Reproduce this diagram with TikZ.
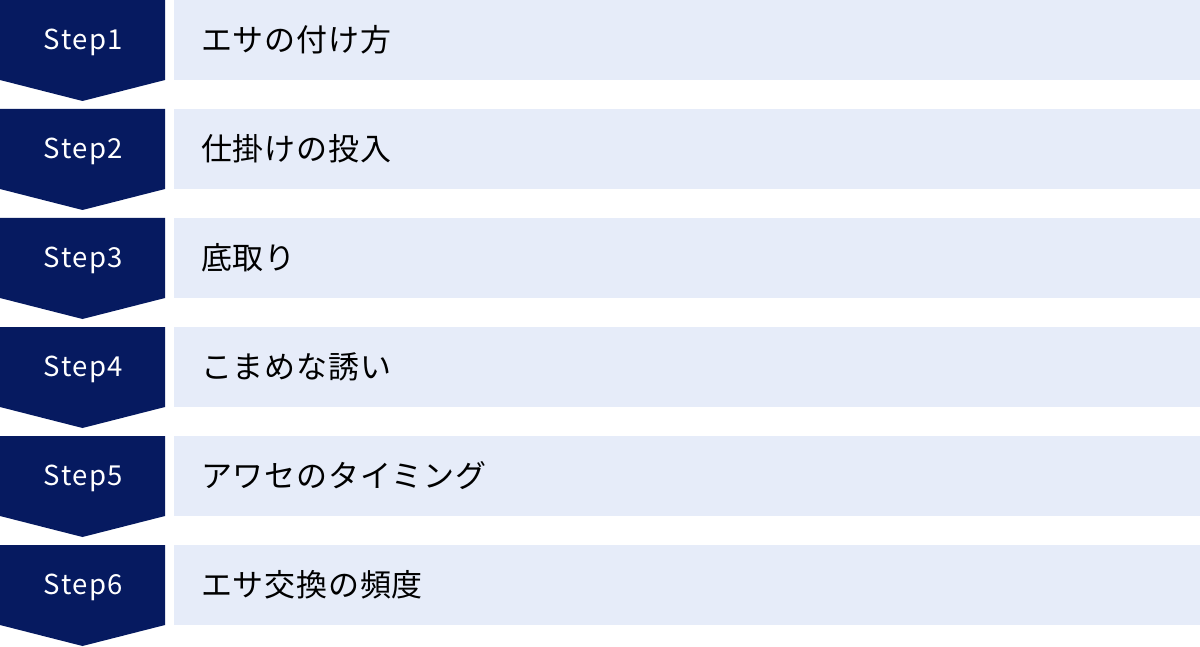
\documentclass[tikz,border=0pt]{standalone}
\usepackage{fontspec}
\setmainfont{Noto Sans CJK JP}
\newfontfamily\jpfont{Noto Sans CJK JP}
\definecolor{navy}{HTML}{061A60}
\definecolor{pale}{HTML}{E6ECF9}
\begin{document}
\begin{tikzpicture}[x=1pt,y=-1pt,
  stepshape/.style={fill=navy,draw=none},
  barbox/.style={fill=pale,draw=none},
  steplabel/.style={text=white,font=\jpfont\fontsize{27.5}{32}\selectfont\addfontfeature{LetterSpace=5.5},anchor=center,inner sep=0pt},
  itemlabel/.style={text=black,font=\jpfont\fontsize{31}{37}\selectfont\addfontfeature{LetterSpace=2.5},anchor=west,inner sep=0pt}]
\useasboundingbox (0,0) rectangle (1200,647);
\fill[white] (0,0) rectangle (1200,647);
\foreach \i/\t in {1/エサの付け方,2/仕掛けの投入,3/底取り,4/こまめな誘い,5/アワセのタイミング,6/エサ交換の頻度}{
  \pgfmathsetmacro{\y}{(\i-1)*109}
  \fill[stepshape] (0,\y) -- (165,\y) -- (165,\y+80) -- (82.5,\y+101) -- (0,\y+80) -- cycle;
  \fill[barbox] (174,\y) rectangle (1200,\y+80);
  \node[steplabel] (s\i) at (83.5,\y+42) {Step\i};
  \node[itemlabel] (t\i) at (201,\y+40) {\t};
}
\end{tikzpicture}
\end{document}
